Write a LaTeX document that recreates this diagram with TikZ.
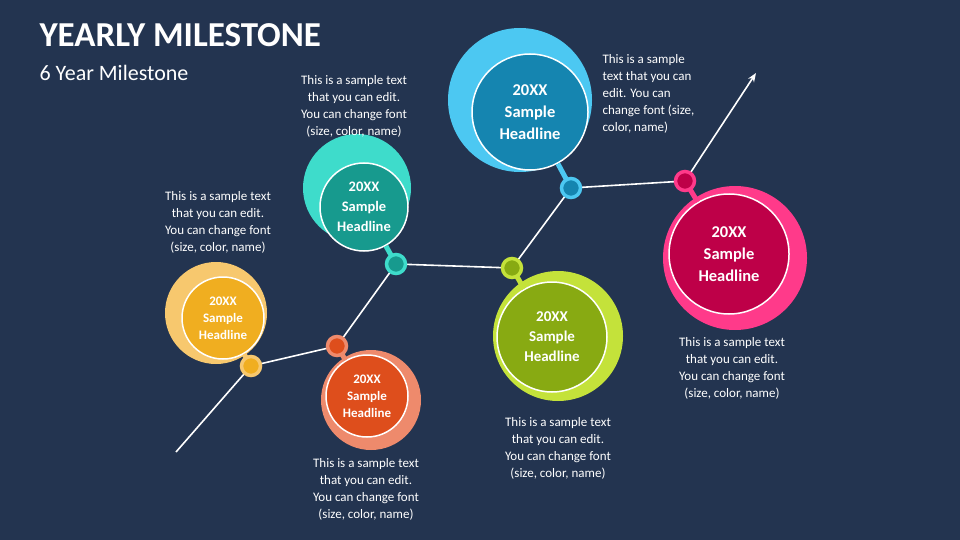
\documentclass[tikz,border=0pt]{standalone}
\usepackage{fontspec}
\setmainfont{Carlito}
\usetikzlibrary{arrows.meta}
\definecolor{bg}{HTML}{233450}
\definecolor{yin}{HTML}{F0AE20}\definecolor{yout}{HTML}{F7C86E}
\definecolor{oin}{HTML}{DE4E1C}\definecolor{oout}{HTML}{EE8A6C}
\definecolor{tin}{HTML}{179A8E}\definecolor{tout}{HTML}{3EDCCB}
\definecolor{gin}{HTML}{88AA12}\definecolor{gout}{HTML}{C4E23A}
\definecolor{bin}{HTML}{1585B0}\definecolor{bout}{HTML}{4CC8F2}
\definecolor{pin}{HTML}{BE0048}\definecolor{pout}{HTML}{FF3A8A}
\tikzset{
 outer/.style={circle,inner sep=0pt,minimum size=#1},
 inner/.style={circle,draw=white,line width=1.5pt,inner sep=0pt,minimum size=#1,text=white,align=center,font=\bfseries},
 dot/.style 2 args={circle,draw=#2,line width=3.5pt,inner sep=0pt,minimum size=19pt,fill=#1},
 stem/.style={line width=5pt,#1},
 desc/.style={text=white,align=center,font=\fontsize{13}{17}\selectfont},
 conn/.style={white,line width=1.6pt}
}
\begin{document}
\begin{tikzpicture}[x=1pt,y=-1pt]
\fill[bg] (0,0) rectangle (960,540);
\useasboundingbox (0,0) rectangle (960,540);
\node[anchor=west,text=white,font=\bfseries\fontsize{35}{40}\selectfont] (title) at (36,35) {YEARLY MILESTONE};
\node[anchor=west,text=white,font=\fontsize{22}{24}\selectfont] (sub) at (36,73) {6 Year Milestone};
% circles
\node[outer=102pt,fill=yout] (y1) at (216,313) {};
\node[inner=82pt,fill=yin,font=\bfseries\fontsize{13}{17}\selectfont] (y2) at (223,318) {20XX\\Sample\\Headline};
\node[outer=100pt,fill=oout] (o1) at (371,400) {};
\node[inner=82pt,fill=oin,font=\bfseries\fontsize{13}{17}\selectfont] (o2) at (367,396) {20XX\\Sample\\Headline};
\node[outer=108pt,fill=tout] (t1) at (357,188) {};
\node[inner=88pt,fill=tin,font=\bfseries\fontsize{14.5}{20}\selectfont] (t2) at (364,207) {20XX\\Sample\\Headline};
\node[outer=130pt,fill=gout] (g1) at (558,336) {};
\node[inner=110pt,fill=gin,font=\bfseries\fontsize{15}{20}\selectfont] (g2) at (552,337) {20XX\\Sample\\Headline};
\node[outer=144pt,fill=bout] (b1) at (520,100) {};
\node[inner=116pt,fill=bin,font=\bfseries\fontsize{16.5}{22}\selectfont] (b2) at (530,112) {20XX\\Sample\\Headline};
\node[outer=144pt,fill=pout] (p1) at (735,258) {};
\node[inner=120pt,fill=pin,font=\bfseries\fontsize{16.5}{22}\selectfont] (p2) at (729,254) {20XX\\Sample\\Headline};
% dots
\coordinate (s) at (176,452);
\coordinate (e) at (756,73);
\coordinate (c1) at (251,366);
\coordinate (c2) at (337,346);
\coordinate (c3) at (396,264);
\coordinate (c4) at (512,268);
\coordinate (c5) at (571,188);
\coordinate (c6) at (685,181);
\draw[stem=yout] (c1) -- (y2);
\draw[stem=oout] (c2) -- (o2);
\draw[stem=tout] (c3) -- (t2);
\draw[stem=gout] (c4) -- (g2);
\draw[stem=bout] (c5) -- (b2);
\draw[stem=pout] (c6) -- (p2);
\draw[conn] (s) -- (c1) -- (c2) -- (c3) -- (c4) -- (c5) -- (c6);
\draw[conn,-{Stealth[length=9pt,width=7pt]}] (c6) -- (e);
\node[dot={yin}{yout}] (d1) at (c1) {};
\node[dot={oin}{oout}] (d2) at (c2) {};
\node[dot={tin}{tout}] (d3) at (c3) {};
\node[dot={gin}{gout}] (d4) at (c4) {};
\node[dot={bin}{bout}] (d5) at (c5) {};
\node[dot={pin}{pout}] (d6) at (c6) {};
% descriptions
\node[desc] (x1) at (218,222) {This is a sample text\\that you can edit.\\You can change font\\(size, color, name)};
\node[desc] (x2) at (354,106) {This is a sample text\\that you can edit.\\You can change font\\(size, color, name)};
\node[desc,align=left,anchor=north west] (x3) at (599,51) {This is a sample\\text that you can\\edit. You can\\change font (size,\\color, name)};
\node[desc] (x4) at (366,489) {This is a sample text\\that you can edit.\\You can change font\\(size, color, name)};
\node[desc] (x5) at (558,448) {This is a sample text\\that you can edit.\\You can change font\\(size, color, name)};
\node[desc] (x6) at (732,368) {This is a sample text\\that you can edit.\\You can change font\\(size, color, name)};
\end{tikzpicture}
\end{document}
